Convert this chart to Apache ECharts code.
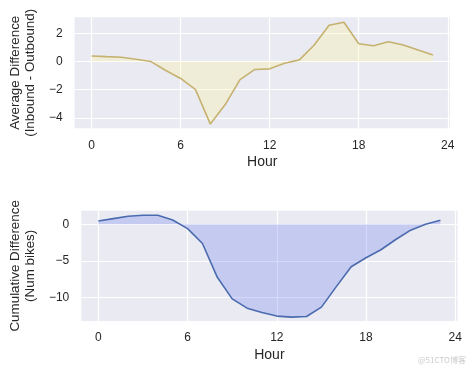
<!DOCTYPE html>
<html>
<head>
<meta charset="utf-8">
<script src="https://cdn.jsdelivr.net/npm/echarts@6/dist/echarts.min.js"></script>
<style>html,body{margin:0;padding:0;background:#fff;}#c{width:474px;height:370px;}</style>
</head>
<body>
<div id="c"></div>
<script>
const hours = [0,1,2,3,4,5,6,7,8,9,10,11,12,13,14,15,16,17,18,19,20,21,22,23];
const avgDiff = [0.40,0.35,0.31,0.16,0.0,-0.64,-1.2,-2.0,-4.45,-3.06,-1.29,-0.56,-0.52,-0.12,0.12,1.18,2.59,2.8,1.27,1.13,1.41,1.18,0.82,0.47];
const cumDiff = [0.45,0.77,1.09,1.22,1.22,0.59,-0.59,-2.62,-7.24,-10.18,-11.45,-12.04,-12.53,-12.67,-12.58,-11.31,-8.51,-5.79,-4.57,-3.48,-2.08,-0.81,0.0,0.54];
const xTicks = [0,6,12,18,24];
const yTicksTop = [-4,-2,0,2];
const yTicksBottom = [-10,-5,0];

const font = 'Liberation Sans, Arial, sans-serif';
const txt = '#262626';
const fmt = v => (v < 0 ? '\u2212' + Math.abs(v) : String(v));

function xAxis(gi) {
  return {
    type: 'value', gridIndex: gi, min: -1.15, max: 24.15,
    name: 'Hour', nameLocation: 'middle', nameGap: 27,
    nameTextStyle: {fontFamily: font, fontSize: 14, color: txt},
    axisLine: {show: false},
    axisTick: {show: false, customValues: xTicks},
    axisLabel: {customValues: xTicks, fontFamily: font, fontSize: 12, color: txt, margin: 11, formatter: fmt},
    splitLine: {show: true, lineStyle: {color: '#ffffff', width: 1.2}}
  };
}
function yAxis(gi, min, max, ticks, name, gap) {
  return {
    type: 'value', gridIndex: gi, min: min, max: max,
    name: name, nameLocation: 'middle', nameRotate: 90, nameGap: gap,
    nameTextStyle: {fontFamily: font, fontSize: 13.4, color: txt, lineHeight: 15, align: 'center'},
    axisLine: {show: false},
    axisTick: {show: false, customValues: ticks},
    axisLabel: {customValues: ticks, fontFamily: font, fontSize: 12, color: txt, margin: 12, formatter: fmt},
    splitLine: {show: true, lineStyle: {color: '#ffffff', width: 1.2}}
  };
}

const chart = echarts.init(document.getElementById('c'), null, {renderer: 'canvas'});
chart.setOption({
  animation: false,
  backgroundColor: '#ffffff',
  grid: [
    {left: 70, top: 17.3, width: 380, height: 111, show: true, backgroundColor: '#eaeaf2', borderWidth: 0},
    {left: 76.5, top: 210.7, width: 381, height: 110.3, show: true, backgroundColor: '#eaeaf2', borderWidth: 0}
  ],
  xAxis: [xAxis(0), xAxis(1)],
  yAxis: [
    yAxis(0, -4.75, 3.15, yTicksTop, 'Average Difference\n(Inbound - Outbound)', 28),
    yAxis(1, -13.2, 1.85, yTicksBottom, 'Cumulative Difference\n(Num bikes)', 35)
  ],
  series: [
    {
      type: 'line', xAxisIndex: 0, yAxisIndex: 0,
      data: hours.map((h, i) => [h, avgDiff[i]]),
      showSymbol: false, symbol: 'none',
      lineStyle: {color: '#c6b270', width: 1.6},
      areaStyle: {color: 'rgba(255,245,130,0.35)', origin: 0}
    },
    {
      type: 'line', xAxisIndex: 1, yAxisIndex: 1,
      data: hours.map((h, i) => [h, cumDiff[i]]),
      showSymbol: false, symbol: 'none',
      lineStyle: {color: '#4a6bae', width: 1.6},
      areaStyle: {color: 'rgba(100,120,240,0.4)', origin: 0}
    }
  ],
  graphic: [
    {type: 'text', left: 418, top: 356, style: {text: '@51CTO博客', fontSize: 8, fill: '#cccccc', fontFamily: 'Noto Sans CJK SC, sans-serif'}}
  ]
});
</script>
</body>
</html>
